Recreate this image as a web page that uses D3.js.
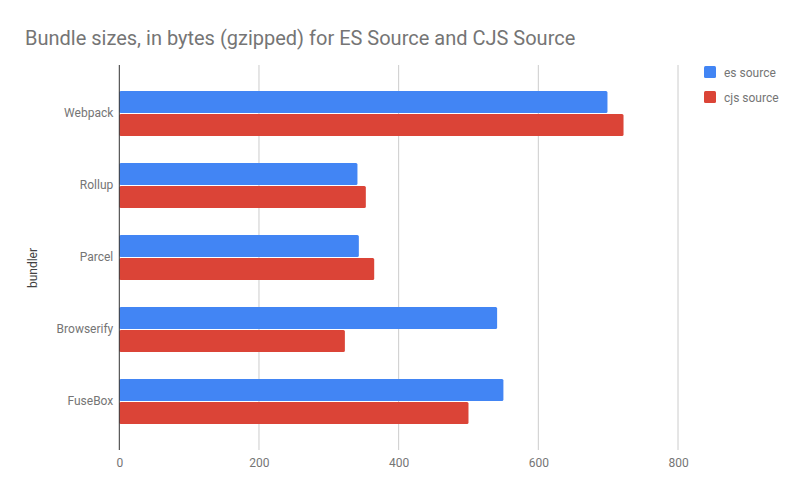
<!DOCTYPE html>
<html>
<head>
<meta charset="utf-8">
<script src="https://cdn.jsdelivr.net/npm/d3@7"></script>
<style>
  body { margin: 0; background: #fff; }
  svg { font-family: Roboto, "Noto Sans", sans-serif; }
</style>
</head>
<body>
<div id="chart"></div>
<script>
// data
var bundlers = ["Webpack", "Rollup", "Parcel", "Browserify", "FuseBox"];
var esSource = [699, 341, 343, 541, 550];
var cjsSource = [722, 353, 365, 323, 500];
var seriesNames = ["es source", "cjs source"];
var xTicks = [0, 200, 400, 600, 800];

var colors = ["#4285f4", "#db4437"];

var W = 803, H = 496;
var plot = {left: 119.3, right: 678, top: 65, bottom: 450};

var svg = d3.select("#chart").append("svg")
    .attr("width", W)
    .attr("height", H);

var x = d3.scaleLinear()
    .domain([0, 800])
    .range([plot.left, plot.right]);

var y = d3.scaleBand()
    .domain(bundlers)
    .range([plot.top, plot.bottom])
    .paddingInner(0.375)
    .paddingOuter(0.36);

var ySub = d3.scaleBand()
    .domain(seriesNames)
    .range([0, y.bandwidth()])
    .paddingInner(0.04);

// title
svg.append("text")
    .attr("x", 25)
    .attr("y", 45)
    .attr("fill", "#757575")
    .style("font-size", "20px")
    .text("Bundle sizes, in bytes (gzipped) for ES Source and CJS Source");

// gridlines
svg.append("g")
  .selectAll("line")
  .data(xTicks.filter(d => d > 0))
  .enter()
  .append("line")
    .attr("x1", d => x(d))
    .attr("x2", d => x(d))
    .attr("y1", plot.top)
    .attr("y2", plot.bottom)
    .attr("stroke", "#cccccc")
    .attr("stroke-width", 1);

// x tick labels
var xAxis = svg.append("g")
    .attr("transform", "translate(0," + plot.bottom + ")")
    .call(d3.axisBottom(x).tickValues(xTicks).tickSize(0).tickPadding(8));
xAxis.select(".domain").remove();
xAxis.selectAll("text")
    .attr("fill", "#757575")
    .style("font-size", "12px")
    .style("font-family", "Roboto, sans-serif");

// y labels
var yAxis = svg.append("g")
    .attr("transform", "translate(" + plot.left + ",0)")
    .call(d3.axisLeft(y).tickSize(0).tickPadding(6));
yAxis.select(".domain").remove();
yAxis.selectAll("text")
    .attr("fill", "#757575")
    .style("font-size", "12px")
    .style("font-family", "Roboto, sans-serif");

// y axis title
svg.append("text")
    .attr("transform", "translate(37,268) rotate(-90)")
    .attr("text-anchor", "middle")
    .attr("fill", "#424242")
    .style("font-size", "12px")
    .text("bundler");

// bars
var rows = bundlers.map((b, i) => ({name: b, values: [esSource[i], cjsSource[i]]}));

var groups = svg.append("g")
  .selectAll("g")
  .data(rows)
  .enter()
  .append("g")
    .attr("transform", d => "translate(0," + y(d.name) + ")");

groups.selectAll("rect")
  .data(d => d.values.map((v, k) => ({series: seriesNames[k], value: v, k: k})))
  .enter()
  .append("rect")
    .attr("x", x(0))
    .attr("y", d => ySub(d.series))
    .attr("width", d => x(d.value) - x(0))
    .attr("height", ySub.bandwidth())
    .attr("rx", 1.5)
    .attr("fill", d => colors[d.k]);

// zero axis line
svg.append("line")
    .attr("x1", x(0))
    .attr("x2", x(0))
    .attr("y1", plot.top)
    .attr("y2", plot.bottom)
    .attr("stroke", "#333333")
    .attr("stroke-width", 1);

// legend
var legend = svg.append("g")
  .selectAll("g")
  .data(seriesNames)
  .enter()
  .append("g")
    .attr("transform", (d, i) => "translate(704," + (66 + i * 25) + ")");

legend.append("rect")
    .attr("width", 12)
    .attr("height", 12)
    .attr("rx", 1.5)
    .attr("fill", (d, i) => colors[i]);

legend.append("text")
    .attr("x", 20)
    .attr("y", 10.5)
    .attr("fill", "#757575")
    .style("font-size", "12px")
    .text(d => d);
</script>
</body>
</html>
